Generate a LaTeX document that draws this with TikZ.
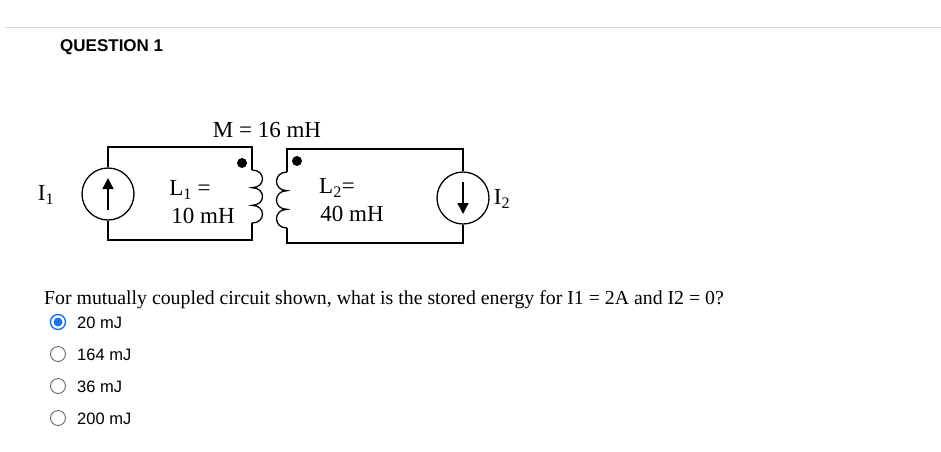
\documentclass[tikz,border=0pt]{standalone}
\usepackage{fontspec}
\setmainfont{Liberation Serif}
\setsansfont{Liberation Sans}
\usepackage{tikz}
\usetikzlibrary{arrows.meta}
\definecolor{radioblue}{HTML}{1A73E8}
\tikzset{
  wire/.style={black, line width=1.3pt},
  srcbox/.style={circle, draw, line width=1.3pt, minimum size=52pt, inner sep=0pt},
  lbl/.style={font=\fontsize{23}{25}\selectfont, inner sep=0pt},
  opt/.style={font=\sffamily\fontsize{16.5}{18}\selectfont, anchor=west, inner sep=0pt},
  radio/.style={circle, draw=gray!80!black, line width=0.9pt, minimum size=15pt, inner sep=0pt}
}
\begin{document}
\begin{tikzpicture}[x=1pt,y=-1pt]
\useasboundingbox (0,0) rectangle (941,451);
\draw[gray!30, line width=0.8pt] (5,27) -- (941,27);
\node[font=\sffamily\bfseries\fontsize{17}{19}\selectfont, anchor=west, inner sep=0pt] (title) at (60,47) {QUESTION 1};
% sources
\node[srcbox] (src1) at (108,194) {};
\node[srcbox] (src2) at (463,198) {};
\draw[-{Triangle[length=11pt,width=11pt]}, line width=1.5pt] (108,210) -- (108,178);
\draw[-{Triangle[length=11pt,width=11pt]}, line width=1.5pt] (463,182) -- (463,214);
% left loop
\coordinate (c1t) at (252,170);
\coordinate (c1b) at (252,223);
\draw[wire] (src1.north) -- (108,147) -- (252,147) -- (c1t);
\draw[wire] (src1.south) -- (108,240) -- (252,240) -- (c1b);
\draw[wire] (c1t) \foreach \k in {0,1,2} {.. controls +(14,0) and +(14,0) .. ++(0,17.67)};
% right loop
\coordinate (c2t) at (287,172);
\coordinate (c2b) at (287,228);
\draw[wire] (src2.north) -- (463,149) -- (287,149) -- (c2t);
\draw[wire] (src2.south) -- (463,243) -- (287,243) -- (c2b);
\draw[wire] (c2t) \foreach \k in {0,1,2} {.. controls +(-14,0) and +(-14,0) .. ++(0,18.67)};
\fill (242,163) circle (5pt);
\fill (297,161) circle (5pt);
% labels
\node[lbl] (m) at (267,130) {M = 16 mH};
\node[lbl] (l1a) at (190,190) {L\textsubscript{1} =};
\node[lbl] (l1b) at (203,216) {10 mH};
\node[lbl] (l2a) at (337,188) {L\textsubscript{2}=};
\node[lbl] (l2b) at (352,214) {40 mH};
\node[lbl] (i1) at (46,195) {I\textsubscript{1}};
\node[lbl] (i2) at (502,199) {I\textsubscript{2}};
% question
\node[font=\fontsize{19.8}{22}\selectfont, anchor=west, inner sep=0pt] (q) at (44,300) {For mutually coupled circuit shown, what is the stored energy for I1 = 2A and I2 = 0?};
\node[radio, draw=radioblue, line width=1.4pt] (r1) at (58,322) {};
\fill[radioblue] (r1) circle (4.5pt);
\node[radio] (r2) at (58,354) {};
\node[radio] (r3) at (58,386) {};
\node[radio] (r4) at (58,418) {};
\node[opt] (o1) at (77,323) {20 mJ};
\node[opt] (o2) at (77,355) {164 mJ};
\node[opt] (o3) at (77,387) {36 mJ};
\node[opt] (o4) at (77,419) {200 mJ};
\end{tikzpicture}
\end{document}
